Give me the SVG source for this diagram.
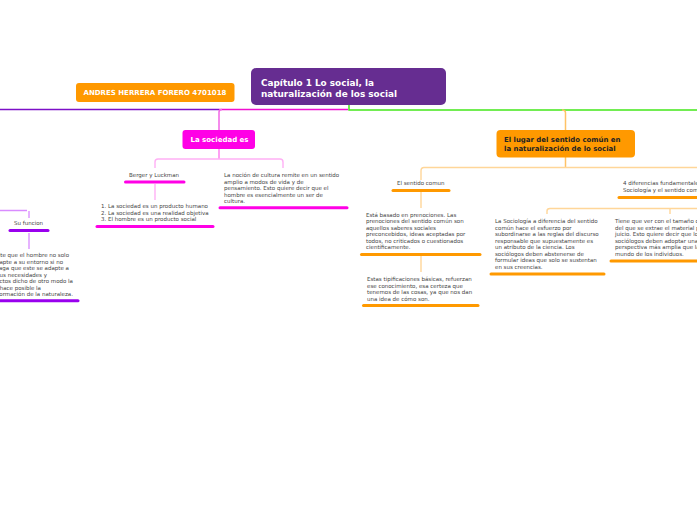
<svg xmlns="http://www.w3.org/2000/svg" width="697" height="520" viewBox="0 0 697 520">
<style>
text{font-family:"DejaVu Sans",Verdana,sans-serif}
.s{font-size:5.5px;fill:#444}
.e{text-anchor:end}
.b{font-weight:bold;fill:#fff}
.c{fill:none;stroke-width:1.4}
.t{fill:none;stroke-width:1.5}
.u{stroke-width:3;stroke-linecap:round;fill:none}
.o{stroke:#ff9900}.m{stroke:#ff00e6}.p{stroke:#9900ee}
</style>
<rect width="697" height="520" fill="#fff"/>
<g id="connectors">
<path class="t" d="M0 109.500H219" stroke="#7d10c8"/>
<path class="t" d="M219 109.500H348" stroke="#f010d0"/>
<path class="t" d="M349 105V110H697" stroke="#44e81a"/>
<path class="t" d="M222 109.500Q219 109.500 219 112V130" stroke="#f266e6"/>
<path class="t" d="M562 110Q565.500 110 565.500 113V130" stroke="#ffc266"/>
<path class="t" d="M219 149V159" stroke="#ff80f0"/>
<path class="c" d="M155 168V162Q155 159 158 159H280Q283 159 283 162V168" stroke="#ffb0f5"/>
<path class="c" d="M155 184V200" stroke="#ffb0f5"/>
<path class="t" d="M565.500 157V167.500" stroke="#ffc266"/>
<path class="c" d="M421 180V171Q421 167.500 424 167.500H697" stroke="#ffd699"/>
<path class="c" d="M421 192V208" stroke="#ffd699"/>
<path class="c" d="M421 256V272" stroke="#ffd699"/>
<path class="c" d="M547 214V211Q547 208.500 550 208.500H697" stroke="#ffd699"/>
<path class="c" d="M670 214V208.500" stroke="#ffd699"/>
<path class="t" d="M0 210.500H27" stroke="#d98cff"/>
<path class="t" d="M29 211V218" stroke="#e6b3ff" style="stroke-width:2"/>
<path class="t" d="M29 233V249" stroke="#e6b3ff" style="stroke-width:2"/>
</g>
<g id="root"><rect x="251" y="68" width="195" height="37" rx="5" fill="#662d91"/>
<text class="b" font-size="8.900" x="261" y="85.500">Capítulo 1 Lo social, la</text>
<text class="b" font-size="8.900" x="261" y="96.500">naturalización de los social</text></g>
<g id="autor"><rect x="76" y="83" width="158.500" height="19" rx="3" fill="#ff9900"/>
<text class="b" font-size="7" x="83.500" y="95">ANDRES HERRERA FORERO 4701018</text></g>
<g id="sociedad"><rect x="182.500" y="130" width="72.500" height="19" rx="3" fill="#ff00e6"/>
<text class="b" font-size="7" x="190.500" y="142">La sociedad es</text></g>
<g id="lugar"><rect x="496.500" y="130" width="138.500" height="27.500" rx="4" fill="#ff9900"/>
<text font-weight="bold" fill="#222" font-size="6.950" x="504" y="142">El lugar del sentido común en</text>
<text font-weight="bold" fill="#222" font-size="6.950" x="504" y="151">la naturalización de lo social</text></g>
<g id="berger"><text class="s" x="129" y="177">Berger y Luckman</text><path class="u m" d="M125.500 182H184"/></g>
<g id="lista"><text class="s" x="101" y="208">1. La sociedad es un producto humano</text>
<text class="s" x="101" y="214.500">2. La sociedad es una realidad objetiva</text>
<text class="s" x="101" y="221">3. El hombre es un producto social</text><path class="u m" d="M97 226.500H213"/></g>
<g id="cultura"><text class="s" x="224" y="177">La noción de cultura remite en un sentido</text>
<text class="s" x="224" y="183.500">amplio a modos de vida y de</text>
<text class="s" x="224" y="190">pensamiento. Esto quiere decir que el</text>
<text class="s" x="224" y="196.500">hombre es esencialmente un ser de</text>
<text class="s" x="224" y="203">cultura.</text><path class="u m" d="M220 207.800H347"/></g>
<g id="funcion"><text class="s" x="14" y="225">Su funcion</text><path class="u p" d="M10 230.500H48"/></g>
<g id="funcion-texto"><text class="s e" x="69" y="257">Permite que el hombre no solo</text>
<text class="s e" x="63" y="263.500">se adapte a su entorno si no</text>
<text class="s e" x="69" y="270">que haga que este se adapte a</text>
<text class="s e" x="47" y="276.500">sus necesidades y</text>
<text class="s e" x="73" y="283">productos dicho de otro modo la</text>
<text class="s e" x="41" y="289.500">la hace posible la</text>
<text class="s e" x="73" y="296">transformación de la naturaleza.</text><path class="u p" d="M0 300.800H78"/></g>
<g id="sentido"><text class="s" x="397" y="185">El sentido comun</text><path class="u o" d="M393 190.500H449"/></g>
<g id="prenociones"><text class="s" x="366" y="216.500">Está basado en prenociones. Las</text>
<text class="s" x="366" y="223">prenociones del sentido común son</text>
<text class="s" x="366" y="229.500">aquellos saberes sociales</text>
<text class="s" x="366" y="236">preconcebidos, ideas aceptadas por</text>
<text class="s" x="366" y="242.500">todos, no criticados o cuestionados</text>
<text class="s" x="366" y="249">científicamente.</text><path class="u o" d="M361.500 254.500H480"/></g>
<g id="tipificaciones"><text class="s" x="367" y="281">Estas tipificaciones básicas, refuerzan</text>
<text class="s" x="367" y="287.500">ese conocimiento, esa certeza que</text>
<text class="s" x="367" y="294">tenemos de las cosas, ya que nos dan</text>
<text class="s" x="367" y="300.500">una idea de cómo son.</text><path class="u o" d="M363.500 305.500H478"/></g>
<g id="diferencias"><text class="s" x="623" y="185">4 diferencias fundamentales</text>
<text class="s" x="623" y="192">Sociología y el sentido común</text><path class="u o" d="M619 197.500H697"/></g>
<g id="sociologia"><text class="s" x="495" y="223">La Sociología a diferencia del sentido</text>
<text class="s" x="495" y="229.500">común hace el esfuerzo por</text>
<text class="s" x="495" y="236">subordinarse a las reglas del discurso</text>
<text class="s" x="495" y="242.500">responsable que supuestamente es</text>
<text class="s" x="495" y="249">un atributo de la ciencia. Los</text>
<text class="s" x="495" y="255.500">sociólogos deben abstenerse de</text>
<text class="s" x="495" y="262">formular ideas que solo se sustentan</text>
<text class="s" x="495" y="268.500">en sus creencias.</text><path class="u o" d="M491 274H604"/></g>
<g id="tamano"><text class="s" x="615" y="223">Tiene que ver con el tamaño del</text>
<text class="s" x="615" y="229.500">del que se extrae el material para</text>
<text class="s" x="615" y="236">juicio. Esto quiere decir que los</text>
<text class="s" x="615" y="242.500">sociólogos deben adoptar una</text>
<text class="s" x="615" y="249">perspectiva más amplia que la del</text>
<text class="s" x="615" y="255.500">mundo de los individuos.</text><path class="u o" d="M611 261H697"/></g>
</svg>
